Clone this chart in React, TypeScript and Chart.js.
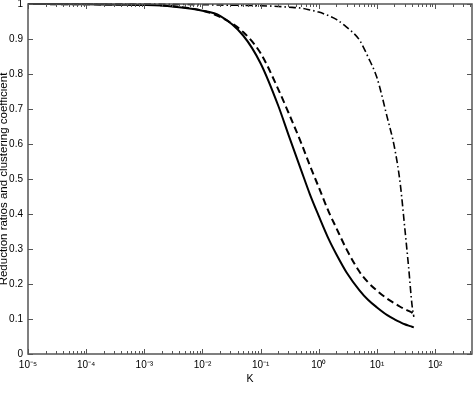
import React, { useEffect, useRef } from 'react';
import { Chart, registerables } from 'chart.js';

Chart.register(...registerables);

// K values (x, logarithmic)
const kValues = [1e-5, 1e-4, 1e-3, 0.003, 0.01, 0.02, 0.05, 0.1, 0.2, 0.3, 0.5, 0.7, 1, 1.5, 2, 3, 5, 7, 10, 15, 20, 25, 30, 35, 40, 43];

// Series values
const solidValues = [1.0, 0.999, 0.997, 0.993, 0.981, 0.966, 0.91, 0.83, 0.71, 0.627, 0.524, 0.457, 0.394, 0.326, 0.285, 0.233, 0.182, 0.155, 0.133, 0.111, 0.099, 0.091, 0.085, 0.081, 0.078, 0.076];
const dashedValues = [1.0, 0.999, 0.998, 0.994, 0.981, 0.963, 0.92, 0.859, 0.757, 0.69, 0.602, 0.539, 0.476, 0.404, 0.36, 0.299, 0.235, 0.205, 0.181, 0.158, 0.145, 0.135, 0.128, 0.123, 0.118, 0.112];
const dashDotValues = [1.0, 1.0, 1.0, 0.999, 0.998, 0.997, 0.996, 0.995, 0.993, 0.991, 0.988, 0.983, 0.977, 0.966, 0.956, 0.934, 0.897, 0.849, 0.789, 0.676, 0.59, 0.489, 0.361, 0.247, 0.14, 0.106];

// Tick definitions
const xTickExponents = [-5, -4, -3, -2, -1, 0, 1, 2];
const yTickValues = [0, 0.1, 0.2, 0.3, 0.4, 0.5, 0.6, 0.7, 0.8, 0.9, 1];
const xMin = 1e-5;
const xMax = 430;
const xTitle = 'K';
const yTitle = 'Reduction ratios and clustering coefficient';

const SUP: Record<string, string> = {
  '-': '\u207B', '0': '\u2070', '1': '\u00B9', '2': '\u00B2', '3': '\u00B3',
  '4': '\u2074', '5': '\u2075', '6': '\u2076', '7': '\u2077', '8': '\u2078', '9': '\u2079',
};
const supText = (n: number) => String(n).split('').map((c) => SUP[c] || c).join('');

const FONT = "'Liberation Sans', Arial, Helvetica, sans-serif";
const AXIS_COLOR = '#555555';

const framePlugin = {
  id: 'matlabFrame',
  afterDatasetsDraw(chart: any) {
    const { ctx, chartArea, scales } = chart;
    const { left, right, top, bottom } = chartArea;
    const x = scales.x;
    const y = scales.y;
    ctx.save();
    ctx.strokeStyle = AXIS_COLOR;
    ctx.lineWidth = 1.5;
    ctx.beginPath();
    ctx.rect(left, top, right - left, bottom - top);
    ctx.stroke();
    ctx.lineWidth = 1;
    ctx.beginPath();
    for (let e = -5; e <= 3; e++) {
      for (let m = 1; m <= 9; m++) {
        const v = m * Math.pow(10, e);
        if (v < xMin || v > xMax) continue;
        const px = Math.round(x.getPixelForValue(v)) + 0.5;
        const len = m === 1 ? 5 : 3;
        ctx.moveTo(px, bottom);
        ctx.lineTo(px, bottom - len);
        ctx.moveTo(px, top);
        ctx.lineTo(px, top + len);
      }
    }
    for (const t of yTickValues) {
      const py = Math.round(y.getPixelForValue(t)) + 0.5;
      ctx.moveTo(left, py);
      ctx.lineTo(left + 5, py);
      ctx.moveTo(right, py);
      ctx.lineTo(right - 5, py);
    }
    ctx.stroke();
    ctx.restore();
  },
};

export default function App() {
  const canvasRef = useRef<HTMLCanvasElement | null>(null);

  useEffect(() => {
    document.body.style.margin = '0';
    const canvas = canvasRef.current;
    if (!canvas) return;
    const mk = (vals: number[]) => kValues.map((k, i) => ({ x: k, y: vals[i] }));
    const chart = new Chart(canvas, {
      type: 'line',
      data: {
        datasets: [
          {
            label: 'solid',
            data: mk(solidValues),
            borderColor: '#000',
            borderWidth: 2,
            pointRadius: 0,
            cubicInterpolationMode: 'monotone',
            clip: 4,
          },
          {
            label: 'dashed',
            data: mk(dashedValues),
            borderColor: '#000',
            borderWidth: 2,
            borderDash: [7, 4],
            pointRadius: 0,
            cubicInterpolationMode: 'monotone',
            clip: 4,
          },
          {
            label: 'dash-dot',
            data: mk(dashDotValues),
            borderColor: '#000',
            borderWidth: 1.6,
            borderDash: [7, 3, 1.5, 3],
            pointRadius: 0,
            cubicInterpolationMode: 'monotone',
            clip: 4,
          },
        ],
      },
      options: {
        responsive: true,
        maintainAspectRatio: false,
        animation: false,
        events: [],
        layout: { padding: { top: 4, right: 2, left: 0, bottom: 0 } },
        plugins: {
          legend: { display: false },
          tooltip: { enabled: false },
        },
        scales: {
          x: {
            type: 'logarithmic',
            min: xMin,
            max: xMax,
            grid: { display: false, drawTicks: false },
            border: { display: false },
            afterBuildTicks: (s: any) => {
              s.ticks = xTickExponents.map((e) => ({ value: Math.pow(10, e) }));
            },
            afterFit: (s: any) => {
              s.height = 44;
              s.paddingLeft = 0;
              s.paddingRight = 0;
            },
            ticks: {
              autoSkip: false,
              maxRotation: 0,
              padding: 5,
              color: '#000',
              font: { family: FONT, size: 10 },
              callback: (v: any) => '10' + supText(Math.round(Math.log10(Number(v)))),
            },
            title: {
              display: true,
              text: xTitle,
              color: '#000',
              font: { family: FONT, size: 10.5 },
              padding: { top: 0, bottom: 13 },
            },
          },
          y: {
            type: 'linear',
            min: 0,
            max: 1,
            grid: { display: false, drawTicks: false },
            border: { display: false },
            afterBuildTicks: (s: any) => {
              s.ticks = yTickValues.map((v) => ({ value: v }));
            },
            afterFit: (s: any) => {
              s.width = 28;
              s.paddingTop = 0;
              s.paddingBottom = 0;
            },
            ticks: {
              padding: 5,
              color: '#000',
              font: { family: FONT, size: 10 },
              callback: (v: any) => String(v),
            },
            title: {
              display: true,
              text: yTitle,
              color: '#000',
              font: { family: FONT, size: 11.5, lineHeight: 0.75 },
              padding: 0,
            },
          },
        },
      },
      plugins: [framePlugin],
    } as any);
    return () => chart.destroy();
  }, []);

  return (
    <div style={{ position: 'absolute', left: 0, top: 0, width: 474, height: 398 }}>
      <canvas ref={canvasRef} />
    </div>
  );
}
